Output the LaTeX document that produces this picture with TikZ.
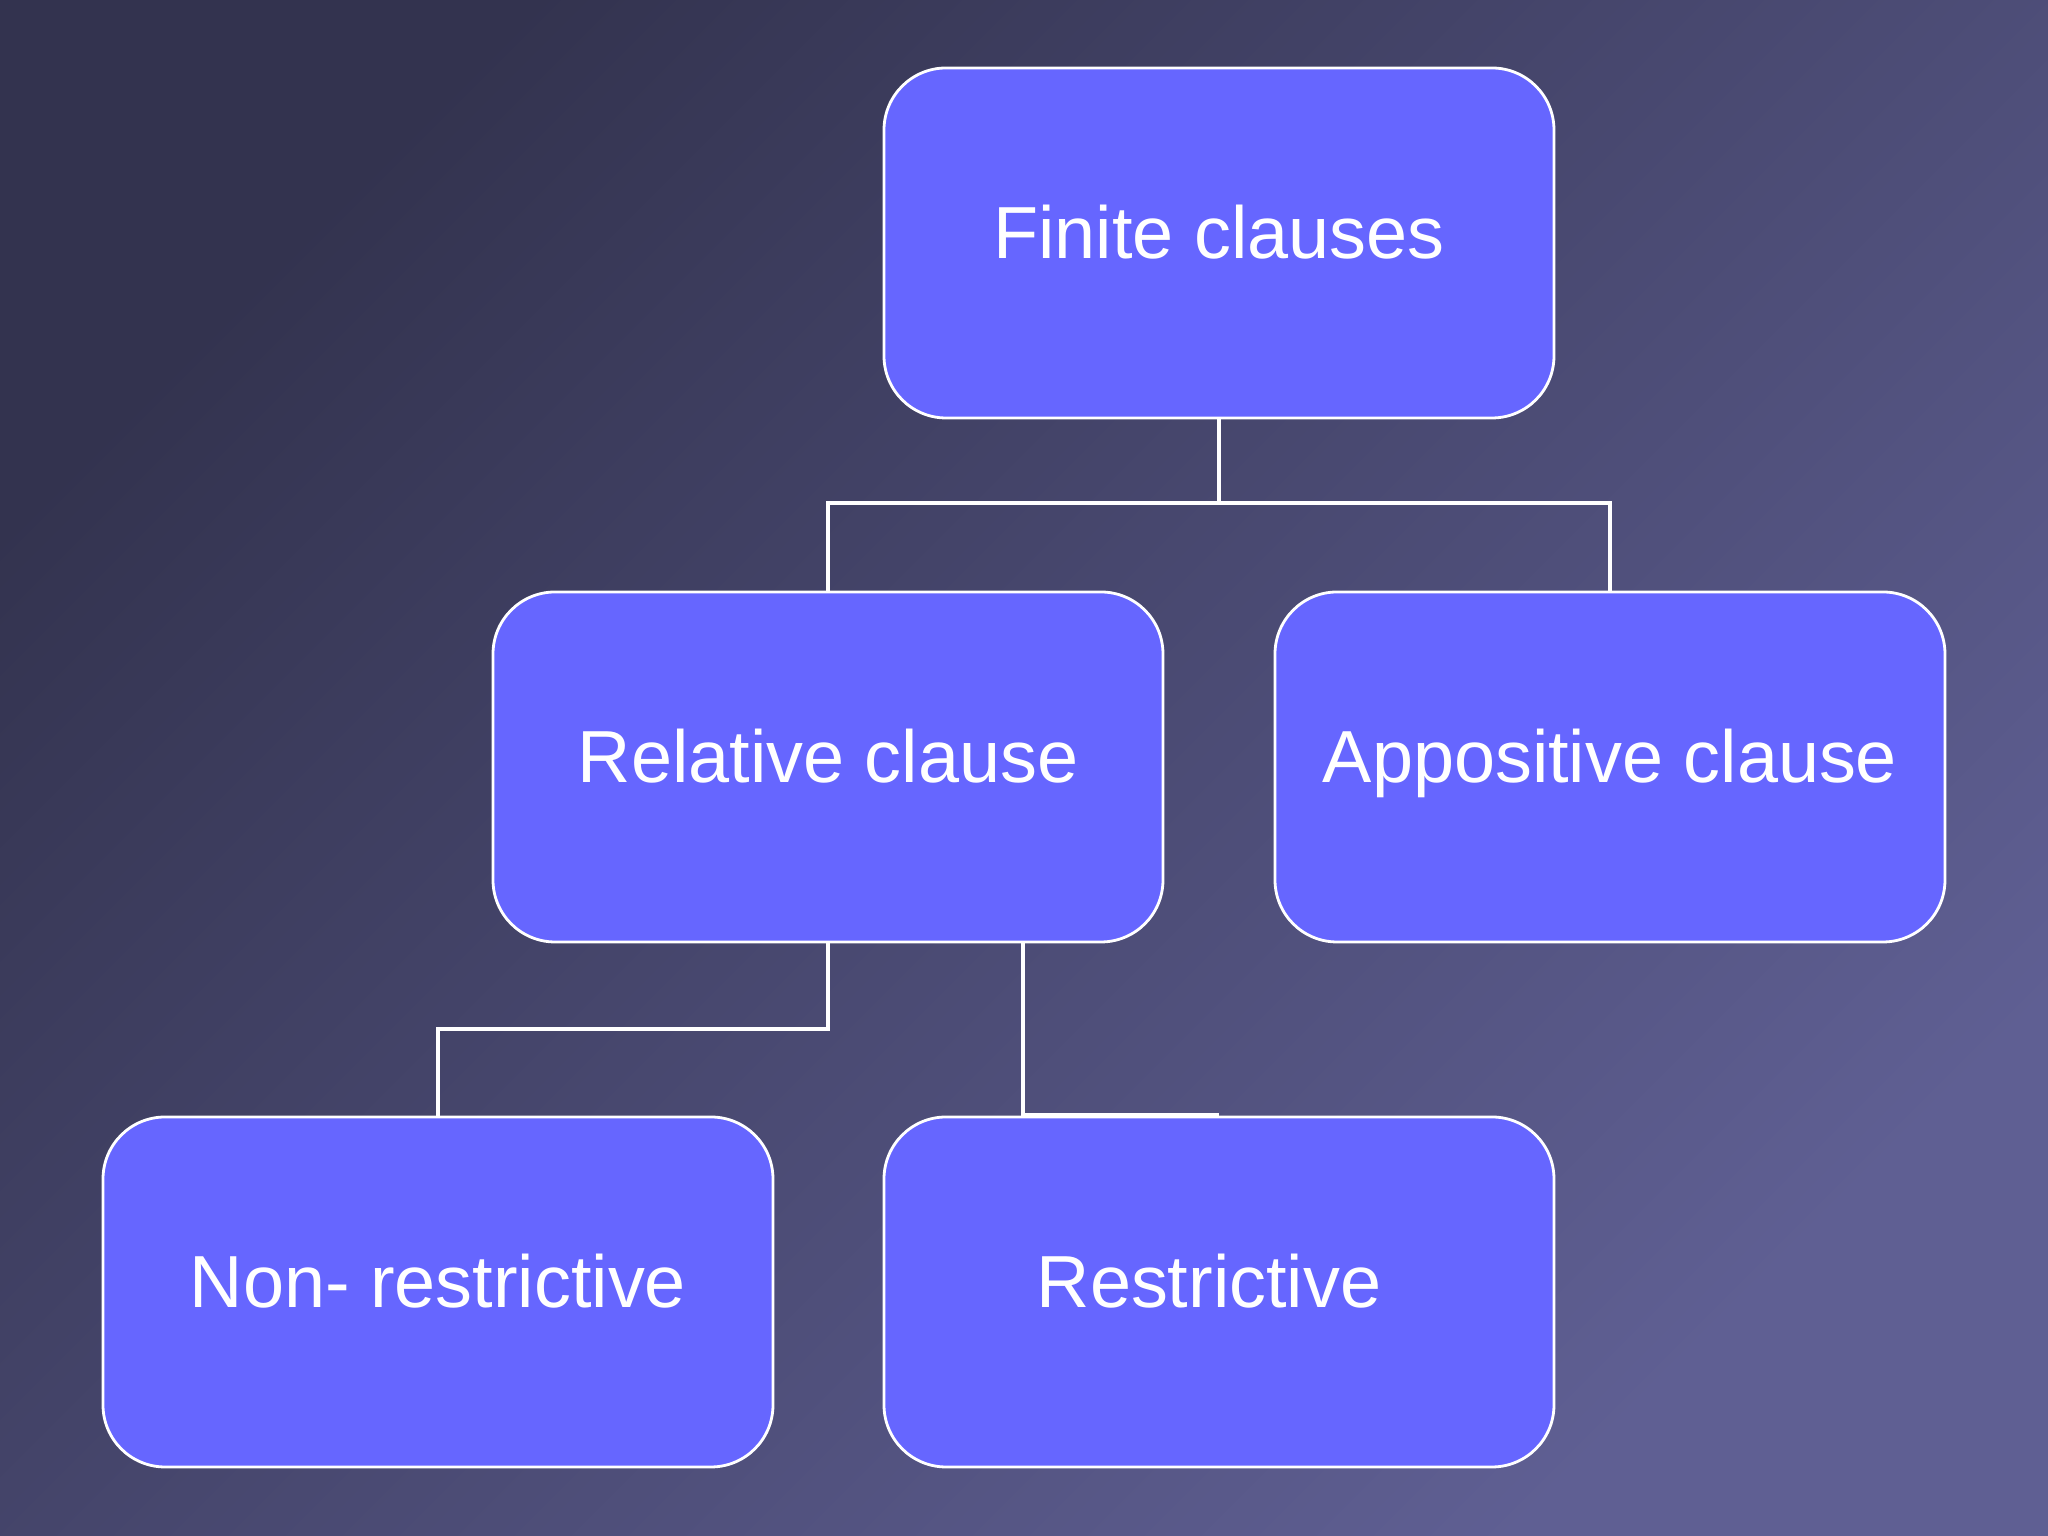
\documentclass[tikz,border=0pt]{standalone}
\usepackage{fontspec}
\setmainfont{Liberation Sans}
\definecolor{boxblue}{HTML}{6666FF}
\definecolor{bgdark}{HTML}{33334F}
\definecolor{bglight}{HTML}{5F5F93}
\begin{document}
\begin{tikzpicture}
\tikzset{box/.style={draw=white,line width=0.8pt,fill=boxblue,rounded corners=0.62cm,
    minimum width=6.7cm,minimum height=3.5cm,text=white,text height=2.2ex,text depth=0.5ex,
    font=\fontsize{21}{25}\selectfont},
  link/.style={draw=white,line width=1.3pt}}
			\shade[top color=bgdark,bottom color=bglight,shading angle=45](0,0)rectangle(20.48,15.36);
			\useasboundingbox(0,0)rectangle(20.48,15.36);
			\node[box](finite) at (12.19,12.93){Finite clauses};
			\node[box](relative) at (8.28,7.69){Relative clause};
			\node[box](appositive) at (16.10,7.69){Appositive clause};
			\node[box](nonres) at (4.38,2.44){Non- restrictive};
			\node[box](restr) at (12.19,2.44){\hspace*{-0.2cm}Restrictive};
			\coordinate (j1) at (12.19,10.33);
			\coordinate (j2) at (8.28,5.07);
			\draw[link](finite.south)--(j1);
			\draw[link](relative.north)|-(j1)-|(appositive.north);
			\draw[link](relative.south)--(j2)-|(nonres.north);
			\draw[link](relative.south-|10.23,0)--(restr.north-|10.23,0)--(restr.north);
\end{tikzpicture}
\end{document}
